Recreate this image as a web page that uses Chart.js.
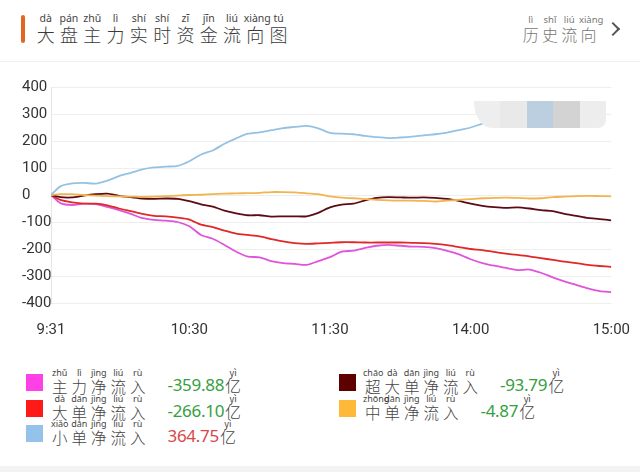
<!DOCTYPE html>
<html>
<head>
<meta charset="utf-8">
<script src="https://cdn.jsdelivr.net/npm/chart.js@4.4.1/dist/chart.umd.min.js"></script>
<style>
  html, body { margin: 0; padding: 0; background: #fff; }
  body { width: 640px; height: 472px; position: relative; overflow: hidden;
         font-family: "Noto Sans CJK SC", "Noto Sans", sans-serif; }
  .bar { position: absolute; left: 21px; top: 15px; width: 4px; height: 28px;
         background: #e2661f; border-radius: 2px; }
  .title { position: absolute; left: 34px; top: 13px; display: flex; }
  .hist { position: absolute; left: 521px; top: 14px; display: flex; }
  .cell { text-align: center; }
  .cell .py { font-family: "Noto Sans", sans-serif; white-space: nowrap; }
  .title .cell { width: 23.3px; }
  .title .py { font-size: 10.5px; line-height: 11px; color: #444; }
  .title .ch { font-size: 18px; line-height: 20px; color: #3a3a3a; font-weight: 300; }
  .hist .cell { width: 19.3px; }
  .hist .py { font-size: 9.5px; line-height: 11px; color: #777; }
  .hist .ch { font-size: 16px; line-height: 19px; color: #777; font-weight: 300; }
  .chev { position: absolute; left: 608px; top: 24px; width: 8px; height: 8px;
          border-top: 2.4px solid #555; border-right: 2.4px solid #555; transform: rotate(45deg); }
  .sep { position: absolute; left: 0; top: 61px; width: 640px; height: 1px; background: #f0f0f0; }
  .foot { position: absolute; left: 0; top: 466px; width: 640px; height: 6px; background: #f3f3f3; }
  #wrap { position: absolute; left: 0; top: 62px; width: 640px; height: 283px; }
  .mask { position: absolute; left: 474px; top: 101px; width: 132px; height: 27px; display: flex;
          overflow: hidden; border-bottom-left-radius: 18px 26px; border-bottom-right-radius: 8px; z-index: 2; }
  .mask div { flex: 1; }
  .item { position: absolute; display: flex; align-items: flex-start; height: 26px; }
  .sq { width: 17px; height: 17px; margin-top: 6px; margin-right: 7px; }
  .item .cell { width: 19.5px; }
  .item .py { font-size: 9px; line-height: 10px; color: #444; }
  .item .ch { font-size: 15.5px; line-height: 16px; color: #444; font-weight: 300; }
  .val { display: flex; align-items: flex-end; margin-left: 20px; height: 26px; }
  .num { font-family: "Noto Sans", sans-serif; font-size: 17px; line-height: 18px; letter-spacing: -0.3px; }
  .yi { text-align: center; margin-left: 1px; }
  .yi .py { font-size: 9px; line-height: 9px; }
  .yi .ch { font-size: 16px; line-height: 17px; }
</style>
</head>
<body>
<div class="bar"></div>
<div class="title" id="title"></div>
<div class="hist" id="hist"></div>
<div class="chev"></div>
<div class="sep"></div>
<div id="wrap"><canvas id="chart"></canvas></div>
<div class="mask">
  <div style="background:#eeeeee"></div>
  <div style="background:#e9e9e9"></div>
  <div style="background:#bccfe0"></div>
  <div style="background:#d3d3d3"></div>
  <div style="background:#ededed"></div>
</div>
<div id="legend"></div>
<div class="foot"></div>
<script>
const times = [
  "9:31", "9:35", "9:40", "9:45", "9:50", "9:55", "10:00", "10:05", "10:10", "10:15",
  "10:20", "10:25", "10:30", "10:35", "10:40", "10:45", "10:50", "10:55", "11:00", "11:05",
  "11:10", "11:15", "11:20", "11:25", "11:30",
  "13:05", "13:10", "13:15", "13:20", "13:25", "13:30", "13:35", "13:40", "13:45", "13:50",
  "13:55", "14:00", "14:05", "14:10", "14:15", "14:20", "14:25", "14:30", "14:35", "14:40",
  "14:45", "14:50", "14:55", "15:00"
];

// 主力净流入
const mainFlow = [
  0, -30, -37, -32, -34, -44, -56, -70, -86, -92, -95, -100, -116, -148, -162, -185, -210, -228, -231, -245,
  -252, -255, -259, -245, -230,
  -210, -206, -196, -188, -185, -188, -191, -192, -197, -207, -220, -238, -252, -262, -270,
  -278, -276, -288, -305, -320, -333, -346, -356, -360
];
// 大单净流入
const largeFlow = [
  0, -18, -27, -32, -32, -38, -50, -60, -70, -77, -79, -84, -91, -110, -119, -132, -143, -148, -153, -163,
  -172, -178, -181, -179, -177,
  -175, -175, -176, -176, -176, -176, -177, -178, -181, -186, -193, -200, -204, -211, -217,
  -222, -227, -234, -240, -247, -252, -259, -263, -266
];
// 小单净流入 (the rest of the line is hidden under the grey box)
const smallFlow = [
  0, 32, 43, 45, 42, 53, 70, 82, 95, 102, 105, 108, 125, 150, 165, 190, 210, 227, 232, 240,
  248, 252, 256, 247, 230,
  227, 225, 219, 214, 211, 213, 216, 221, 225, 231, 240, 250, 264, 275, 285,
  null, null, null, null, null, null, null, null, null
];
// 超大单净流入
const superFlow = [
  0, -8, -9, -2, 3, 5, -3, -8, -13, -14, -13, -14, -23, -35, -43, -58, -68, -75, -75, -80,
  -79, -79, -79, -66, -46,
  -36, -32, -20, -11, -8, -9, -10, -9, -11, -14, -22, -32, -40, -45, -48,
  -46, -50, -56, -60, -70, -77, -85, -89, -94
];
// 中单净流入
const mediumFlow = [
  0, 3, 3, 0, -2, -4, -5, -6, -7, -6, -4, -2, 0, 1, 3, 5, 6, 7, 8, 11,
  11, 10, 6, 3, -5,
  -10, -12, -15, -18, -20, -21, -21, -22, -24, -21, -18, -15, -12, -11, -10,
  -11, -13, -12, -8, -6, -4, -3, -4, -5
];

const xTickLabels = ["9:31", "10:30", "11:30", "14:00", "15:00"];
const yTicks = [-400, -300, -200, -100, 0, 100, 200, 300, 400];

const titleChars = ["大", "盘", "主", "力", "实", "时", "资", "金", "流", "向", "图"];
const titlePinyin = ["dà", "pán", "zhǔ", "lì", "shí", "shí", "zī", "jīn", "liú", "xiàng", "tú"];
const histChars = ["历", "史", "流", "向"];
const histPinyin = ["lì", "shǐ", "liú", "xiàng"];

const legendNames = ["主力净流入", "大单净流入", "小单净流入", "超大单净流入", "中单净流入"];
const legendPinyin = [
  ["zhǔ", "lì", "jìng", "liú", "rù"],
  ["dà", "dān", "jìng", "liú", "rù"],
  ["xiǎo", "dān", "jìng", "liú", "rù"],
  ["chāo", "dà", "dān", "jìng", "liú", "rù"],
  ["zhōng", "dān", "jìng", "liú", "rù"]
];
const netTotals = ["-359.88", "-266.10", "364.75", "-93.79", "-4.87"];

const colors = {
  main: "#e055d8", large: "#e02828", small: "#94c2e4", super: "#5c0a14", medium: "#f2b44e"
};
const legendSquares = ["#ff40e6", "#ff1a1a", "#94c2ea", "#5e0000", "#ffb938"];
const legendPos = [[26, 368], [26, 393.5], [26, 419], [339, 368], [339, 393.5]];

function toIndex(t) {
  const [h, m] = t.split(":").map(Number);
  const mins = h * 60 + m;
  return mins <= 690 ? mins - 571 : mins - 780 + 119;
}

function cells(chars, pinyin) {
  return chars.map((c, i) =>
    `<div class="cell"><div class="py">${pinyin[i]}</div><div class="ch">${c}</div></div>`).join("");
}

document.getElementById("title").innerHTML = cells(titleChars, titlePinyin);
document.getElementById("hist").innerHTML = cells(histChars, histPinyin);

const legend = document.getElementById("legend");
legendNames.forEach((name, i) => {
  const el = document.createElement("div");
  el.className = "item";
  el.style.left = legendPos[i][0] + "px";
  el.style.top = legendPos[i][1] + "px";
  const valColor = netTotals[i].startsWith("-") ? "#35a040" : "#d8474a";
  el.innerHTML = `
    <div class="sq" style="background:${legendSquares[i]}"></div>
    ${cells([...name], legendPinyin[i])}
    <div class="val" style="color:${valColor}">
      <span class="num">${netTotals[i]}</span>
      <div class="yi"><div class="py">yì</div><div class="ch">亿</div></div>
    </div>`;
  legend.appendChild(el);
});

function points(values) {
  return times.map((t, i) => ({ x: toIndex(t), y: values[i] }));
}

function line(label, values, color) {
  return {
    label,
    data: points(values),
    borderColor: color,
    borderWidth: 1.8,
    pointRadius: 0,
    tension: 0.25,
    spanGaps: false
  };
}

Chart.defaults.font.family = "Roboto";
Chart.defaults.animation = false;

const chart = new Chart(document.getElementById("chart"), {
  type: "line",
  data: {
    datasets: [
      line("小单净流入", smallFlow, colors.small),
      line("中单净流入", mediumFlow, colors.medium),
      line("超大单净流入", superFlow, colors.super),
      line("大单净流入", largeFlow, colors.large),
      line("主力净流入", mainFlow, colors.main)
    ]
  },
  options: {
    responsive: true,
    maintainAspectRatio: false,
    layout: { padding: { left: 22, right: 25, top: 25, bottom: 0 } },
    plugins: { legend: { display: false }, tooltip: { enabled: false } },
    scales: {
      x: {
        type: "linear",
        min: 0,
        max: 239,
        grid: { display: false },
        border: { display: false },
        afterBuildTicks: (scale) => {
          scale.ticks = xTickLabels.map((t) => ({ value: toIndex(t) }));
        },
        afterFit: (scale) => { scale.height = 42; },
        ticks: {
          autoSkip: false,
          maxRotation: 0,
          padding: 10,
          color: "#333",
          font: { size: 15 },
          callback: (v) => xTickLabels[xTickLabels.map(toIndex).indexOf(v)]
        }
      },
      y: {
        min: -400,
        max: 400,
        grid: { color: "#eeeeee", drawTicks: false },
        border: { display: true, color: "#e6e6e6" },
        afterBuildTicks: (scale) => {
          scale.ticks = yTicks.map((v) => ({ value: v }));
        },
        afterFit: (scale) => { scale.width = 29; },
        ticks: {
          crossAlign: "far",
          padding: 0,
          color: "#333",
          font: { size: 15 }
        }
      }
    }
  }
});
</script>
</body>
</html>
